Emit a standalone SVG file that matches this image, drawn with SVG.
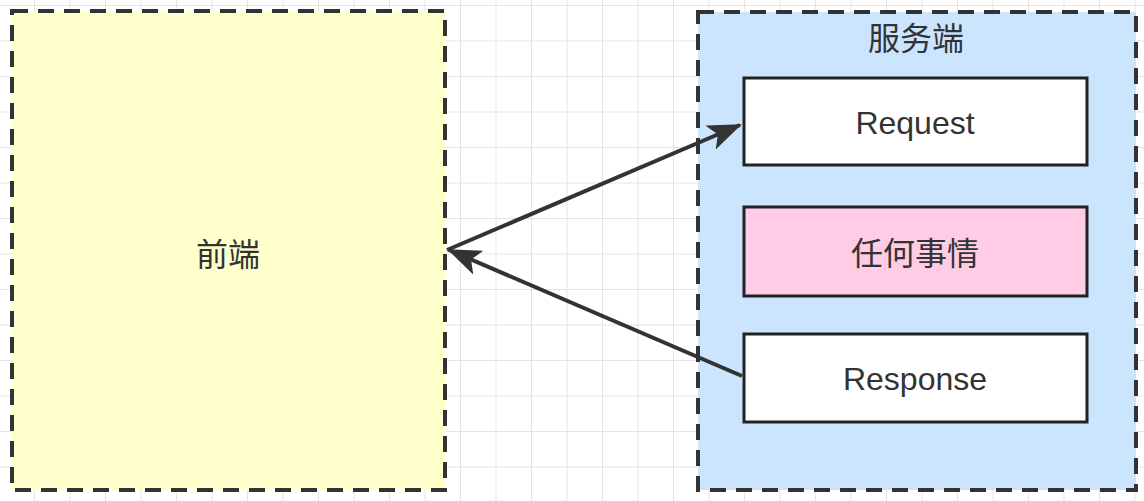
<svg xmlns="http://www.w3.org/2000/svg" width="1144" height="501" viewBox="0 0 1144 501">
<defs>
<pattern id="grid" x="460" y="5" width="35.5" height="35.5" patternUnits="userSpaceOnUse">
<path d="M0 0H35.5M0 0V35.5" fill="none" stroke="#e4e4e4" stroke-width="2"/>
</pattern>
<marker id="arr" markerWidth="34" markerHeight="26" refX="32" refY="13" orient="auto" markerUnits="userSpaceOnUse" viewBox="0 0 34 26">
<path d="M0 0L34 13L0 26L8 13Z" fill="#333"/>
</marker>
</defs>
<style>
.grp{stroke:#333;stroke-width:4;stroke-dasharray:16 10}
.box{fill:#fff;stroke:#222;stroke-width:3}
text{font-family:"Liberation Sans","Noto Sans CJK SC",sans-serif;font-size:32px;fill:#333;text-anchor:middle;dominant-baseline:central}
.cn{font-family:"Noto Sans CJK SC",sans-serif}
</style>
<rect width="1144" height="501" fill="#fff"/>
<rect width="1144" height="501" fill="url(#grid)"/>
<g id="frontend">
<rect class="grp" x="12" y="11" width="433" height="479" fill="#ffffcc"/>
<text class="cn" x="228" y="252">前端</text>
</g>
<g id="server">
<rect class="grp" x="698" y="12" width="438" height="478" fill="#cce5ff"/>
<text class="cn" x="916" y="36">服务端</text>
</g>
<g id="request">
<rect class="box" x="744" y="78" width="343" height="87"/>
<text x="915" y="123">Request</text>
</g>
<g id="anything">
<rect class="box" x="744" y="207" width="343" height="89" style="fill:#ffcce6"/>
<text class="cn" x="915" y="251">任何事情</text>
</g>
<g id="response">
<rect class="box" x="744" y="334" width="343" height="88"/>
<text x="915" y="379">Response</text>
</g>
<g id="connectors" stroke="#333" stroke-width="4" fill="none">
<path d="M447 250L740 125" marker-end="url(#arr)"/>
<path d="M742 376L449 250" marker-end="url(#arr)"/>
</g>
</svg>
